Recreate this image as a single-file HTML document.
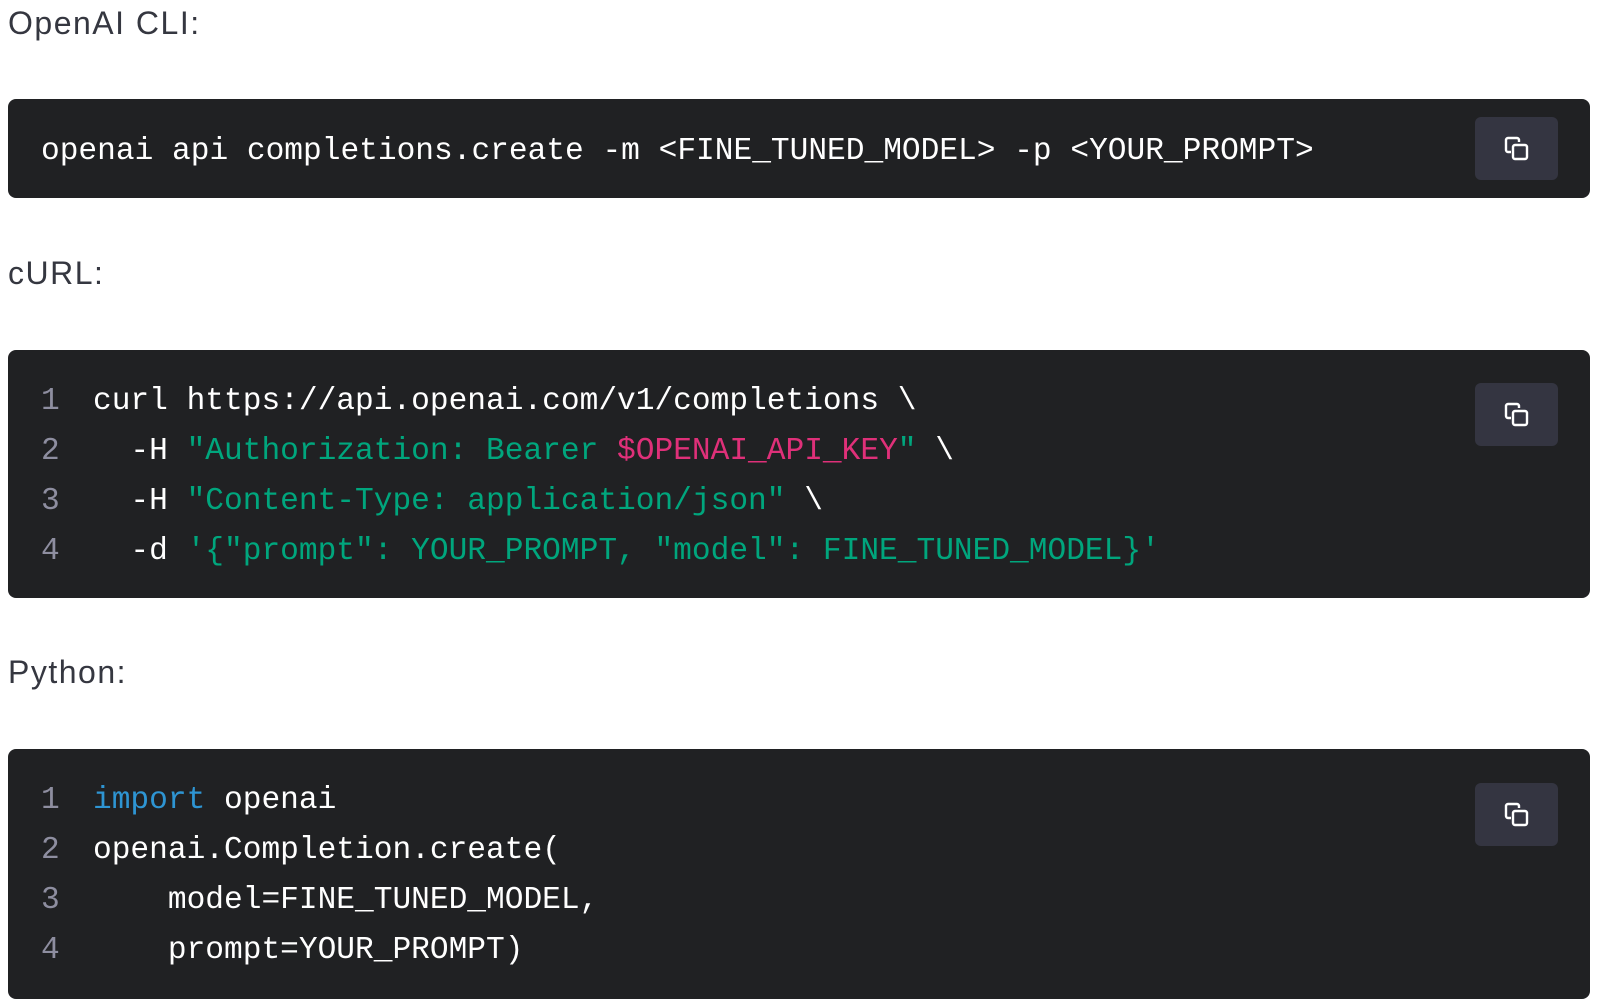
<!DOCTYPE html>
<html><head><meta charset="utf-8"><style>
body{margin:0;width:1600px;height:1006px;background:#fff;position:relative;overflow:hidden;font-family:"Liberation Sans",sans-serif}
.lbl{position:absolute;left:8px;font-size:32px;letter-spacing:1.5px;color:#353740;line-height:40px;height:40px}
.blk{position:absolute;left:8px;width:1582px;background:#202123;border-radius:8px}
.btn{position:absolute;right:32px;width:83px;height:63px;background:#343541;border-radius:6px}
.btn svg{position:absolute;left:27px;top:17px}
.ln{position:absolute;font-family:"Liberation Mono",monospace;font-size:31.2px;color:#fff;white-space:pre;line-height:40px;height:40px}
.n{position:absolute;left:33px;color:#8e8ea0;font-family:"Liberation Mono",monospace;font-size:31.2px;line-height:40px}
.g{color:#00a67d}.p{color:#df3079}.b{color:#2e95d3}
</style></head><body>
<div class="lbl" style="top:3px">OpenAI CLI:</div>
<div class="blk" style="top:99px;height:99px">
<div class="ln" style="left:33px;top:33px">openai api completions.create -m &lt;FINE_TUNED_MODEL&gt; -p &lt;YOUR_PROMPT&gt;</div>
<div class="btn" style="top:18px"><svg width="30" height="30" viewBox="0 0 30 30" fill="none" stroke="#fff" stroke-width="2.4"><path d="M9 18H6a2 2 0 0 1-2-2V6a2 2 0 0 1 2-2h9a2 2 0 0 1 2 2v2"/><rect x="11" y="11" width="14" height="14" rx="2"/></svg></div>
</div>
<div class="lbl" style="top:253px">cURL:</div>
<div class="blk" style="top:350px;height:248px">
<div class="n" style="top:32px">1</div><div class="n" style="top:82px">2</div><div class="n" style="top:132px">3</div><div class="n" style="top:182px">4</div>
<div class="ln" style="left:85px;top:32px">curl https://api.openai.com/v1/completions \</div>
<div class="ln" style="left:85px;top:82px">  -H <span class="g">"Authorization: Bearer </span><span class="p">$OPENAI_API_KEY</span><span class="g">"</span> \</div>
<div class="ln" style="left:85px;top:132px">  -H <span class="g">"Content-Type: application/json"</span> \</div>
<div class="ln" style="left:85px;top:182px">  -d <span class="g">'{"prompt": YOUR_PROMPT, "model": FINE_TUNED_MODEL}'</span></div>
<div class="btn" style="top:33px"><svg width="30" height="30" viewBox="0 0 30 30" fill="none" stroke="#fff" stroke-width="2.4"><path d="M9 18H6a2 2 0 0 1-2-2V6a2 2 0 0 1 2-2h9a2 2 0 0 1 2 2v2"/><rect x="11" y="11" width="14" height="14" rx="2"/></svg></div>
</div>
<div class="lbl" style="top:652px">Python:</div>
<div class="blk" style="top:749px;height:250px">
<div class="n" style="top:32px">1</div><div class="n" style="top:82px">2</div><div class="n" style="top:132px">3</div><div class="n" style="top:182px">4</div>
<div class="ln" style="left:85px;top:32px"><span class="b">import</span> openai</div>
<div class="ln" style="left:85px;top:82px">openai.Completion.create(</div>
<div class="ln" style="left:85px;top:132px">    model=FINE_TUNED_MODEL,</div>
<div class="ln" style="left:85px;top:182px">    prompt=YOUR_PROMPT)</div>
<div class="btn" style="top:34px"><svg width="30" height="30" viewBox="0 0 30 30" fill="none" stroke="#fff" stroke-width="2.4"><path d="M9 18H6a2 2 0 0 1-2-2V6a2 2 0 0 1 2-2h9a2 2 0 0 1 2 2v2"/><rect x="11" y="11" width="14" height="14" rx="2"/></svg></div>
</div>
</body></html>
